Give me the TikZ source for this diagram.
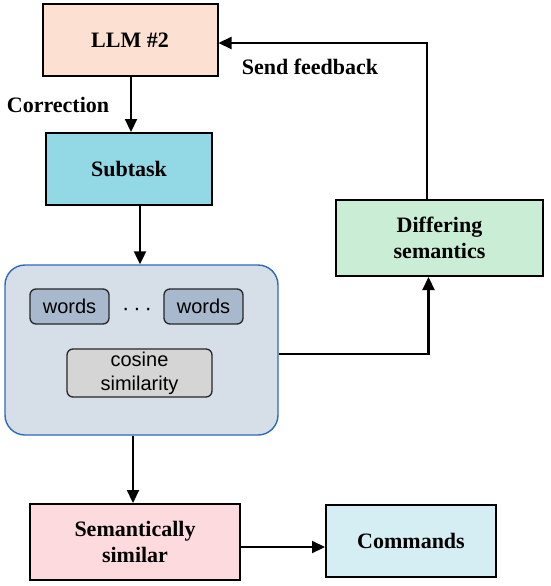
\documentclass[tikz,border=0pt]{standalone}
\usepackage{fontspec}
\setmainfont{Liberation Serif}
\setsansfont{Liberation Sans}
\usetikzlibrary{arrows.meta,calc}
\definecolor{cllm}{HTML}{FCE1D2}
\definecolor{csub}{HTML}{93D9E5}
\definecolor{cdiff}{HTML}{C9EDD5}
\definecolor{csem}{HTML}{FDDADE}
\definecolor{ccmd}{HTML}{D4EEF4}
\definecolor{cbig}{HTML}{D6DEE8}
\definecolor{cbigb}{HTML}{2E6AB8}
\definecolor{cwords}{HTML}{A9B9CD}
\definecolor{ccos}{HTML}{D5D5D5}
\tikzset{
  mainbox/.style={draw=black,line width=2pt,inner sep=0pt,align=center,
    font=\fontsize{22}{26.5}\selectfont\bfseries},
  innerbox/.style={draw=black!85,line width=1.3pt,rounded corners=6pt,inner sep=0pt,align=center,
    font=\sffamily\fontsize{20}{24}\selectfont},
  lbl/.style={font=\fontsize{22}{26}\selectfont\bfseries,inner sep=0pt},
  conn/.style={line width=2.2pt,-{Triangle[length=13pt,width=12pt]}}
}
\begin{document}
\begin{tikzpicture}[x=1pt,y=-1pt]
\useasboundingbox (0,0) rectangle (550,586);
\node[mainbox,fill=cllm,minimum width=175,minimum height=72] (llm) at (130,40) {LLM \#2};
\node[mainbox,fill=csub,minimum width=166,minimum height=72] (sub) at (129,169) {Subtask};
\node[draw=cbigb,line width=1.4pt,fill=cbig,rounded corners=20pt,minimum width=273,minimum height=170,inner sep=0pt] (big) at (141.5,350) {};
\node[innerbox,fill=cwords,minimum width=79,minimum height=35] (w1) at (69.5,306.5) {words};
\node[innerbox,fill=cwords,minimum width=79,minimum height=35] (w2) at (203.5,306.5) {words};
\node[inner sep=0pt,font=\sffamily\fontsize{22}{22}\selectfont] (dots) at (137,312) {·\hspace{4pt}·\hspace{4pt}·};
\node[innerbox,fill=ccos,minimum width=145,minimum height=48] (cos) at (139.5,373) {cosine\\similarity};
\node[mainbox,fill=cdiff,minimum width=207,minimum height=76] (diff) at (439.5,238) {Differing\\semantics};
\node[mainbox,fill=csem,minimum width=210,minimum height=76] (sem) at (135,542) {Semantically\\similar};
\node[mainbox,fill=ccmd,minimum width=170,minimum height=72] (cmd) at (411,541) {Commands};
\node[lbl] (corr) at (58,105) {Correction};
\node[lbl] (fb) at (310,67) {Send feedback};
\draw[conn] ([xshift=1pt]llm.south) -- ([xshift=1pt]llm.south |- sub.north);
\draw[conn] ([xshift=-1.5pt]big.north |- sub.south) -- ([xshift=-1.5pt]big.north);
\draw[conn] ([xshift=-2pt]sem.north |- big.south) -- ([xshift=-2pt]sem.north);
\draw[conn] ([yshift=-5pt]sem.east) -- ([yshift=-5pt]sem.east -| cmd.west);
\draw[conn] (big.east |- 0,354) -| ([xshift=-11pt]diff.south);
\draw[conn] ([xshift=-12.5pt]diff.north) |- ([yshift=-3pt]llm.east);
\end{tikzpicture}
\end{document}
